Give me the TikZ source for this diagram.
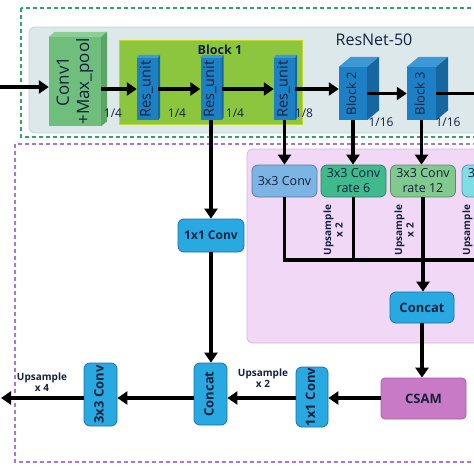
\documentclass[tikz,border=0pt]{standalone}
\usepackage{fontspec}
\setmainfont{Open Sans}
\usetikzlibrary{arrows.meta,calc}
\definecolor{ink}{HTML}{14213D}
\definecolor{framegreen}{HTML}{2AA56B}
\definecolor{framepurple}{HTML}{A875D8}
\definecolor{backbone}{HTML}{DDE8EA}
\definecolor{backboneedge}{HTML}{C3D2D5}
\definecolor{blockone}{HTML}{8CC63F}
\definecolor{blockoneedge}{HTML}{C2D82E}
\definecolor{asppbg}{HTML}{F1D8F7}
\definecolor{asppedge}{HTML}{D2B5DF}
\definecolor{convfront}{HTML}{6FBE7C}
\definecolor{convtop}{HTML}{8CCF95}
\definecolor{convside}{HTML}{5BA567}
\definecolor{resfront}{HTML}{1E80C4}
\definecolor{restop}{HTML}{3D98D6}
\definecolor{resside}{HTML}{16679F}
\definecolor{boxblue}{HTML}{29A9E1}
\definecolor{boxedge}{HTML}{1F6FA3}
\definecolor{ratezero}{HTML}{7CB4E3}
\definecolor{ratesix}{HTML}{40B98D}
\definecolor{ratetwelve}{HTML}{82C98F}
\definecolor{rateeighteen}{HTML}{7FDDE6}
\definecolor{csamfill}{HTML}{C97AC6}
\definecolor{csamedge}{HTML}{A45EA3}
\newcommand\segup[1]{\rotatebox{90}{\begin{tabular}{@{}c@{}}#1\end{tabular}}}
\newcommand\segdepth[5]{%
 \fill[#4] (#1.north west) -- ++(#2,-#3) -- ($(#1.north east)+(#2,-#3)$) -- (#1.north east) -- cycle;
 \fill[#5] (#1.north east) -- ++(#2,-#3) -- ($(#1.south east)+(#2,-#3)$) -- (#1.south east) -- cycle;}
\tikzset{
 seg flow/.style={line width=3.8pt,-{Triangle[length=10pt,width=13pt]}},
 seg line/.style={line width=3.8pt},
 seg frame/.style={line width=1.7pt,dash pattern=on 4pt off 3pt},
 seg cube/.style={rectangle,inner sep=0pt,text=ink},
 seg box/.style={rectangle,rounded corners=6pt,draw=boxedge,fill=boxblue,line width=.8pt,
                 inner sep=0pt,text=ink,align=center,font=\fontsize{13}{15}\bfseries},
 seg rate/.style={seg box,minimum width=65pt,minimum height=32pt,font=\fontsize{12.5}{15}\selectfont},
 seg ratio/.style={font=\fontsize{12}{14}\selectfont,text=ink},
 seg note/.style={font=\fontsize{10}{11.5}\bfseries,text=ink,align=center,inner sep=0pt}
}
\begin{document}
\begin{tikzpicture}[x=1pt,y=-1pt]
 \useasboundingbox (0,0) rectangle (474,474);
 % frames and panels
 \draw[seg frame,draw=framegreen] (21,8) rectangle (495,137);
 \draw[seg frame,draw=framepurple] (15,144) rectangle (495,462);
 \draw[fill=backbone,draw=backboneedge,line width=.8pt,rounded corners=6pt] (29,27) rectangle (505,133);
 \node[font=\fontsize{16}{18}\selectfont,text=ink] (resnet) at (374,40) {ResNet-50};
 \draw[fill=blockone,draw=blockoneedge,line width=1pt] (119,40) rectangle (302,124);
 \node[font=\fontsize{12.5}{14}\bfseries,text=ink] (block1) at (220,50) {Block 1};
 \draw[fill=asppbg,draw=asppedge,line width=.8pt,rounded corners=6pt] (247,149) rectangle (505,343);

 % backbone
 \node[seg cube,fill=convfront,minimum width=52pt,minimum height=89pt,
       font=\fontsize{17}{20}\selectfont] (conv1) at (75,81.5) {\segup{Conv1\\+Max\_pool}};
 \segdepth{conv1}{6}{5}{convtop}{convside}
 \foreach \n/\x in {res1/147.5,res2/211,res3/284.5}{
  \node[seg cube,fill=resfront,minimum width=21pt,minimum height=62pt,
        font=\fontsize{14.5}{16}\selectfont] (\n) at (\x,89) {\segup{Res\_unit}};
  \segdepth{\n}{2}{3}{restop}{resside}
 }
 \node[seg cube,fill=resfront,minimum width=28pt,minimum height=53pt,
       font=\fontsize{13}{15}\selectfont] (block2) at (353,93.5) {\segup{Block 2}};
 \segdepth{block2}{12}{10}{restop}{resside}
 \node[seg cube,fill=resfront,minimum width=29pt,minimum height=53pt,
       font=\fontsize{13}{15}\selectfont] (block3) at (421.5,93.5) {\segup{Block 3}};
 \segdepth{block3}{12}{10}{restop}{resside}

 \coordinate (in) at (-8,87);
 \coordinate (out) at (484,93.5);
 \draw[seg flow] (in) -- (in -| conv1.west);
 \draw[seg flow] (conv1.east |- res1.west) -- (res1.west);
 \draw[seg flow] (res1.east) -- (res2.west);
 \draw[seg flow] (res2.east) -- (res3.west);
 \draw[seg flow] (res3.east) -- (res3.east -| block2.west);
 \draw[seg flow] (block2.east) -- (block3.west);
 \draw[seg flow] (block3.east) -- (out);

 \node[seg ratio] (r1) at (113,113) {1/4};
 \node[seg ratio] (r2) at (177,113) {1/4};
 \node[seg ratio] (r3) at (235,113) {1/4};
 \node[seg ratio] (r4) at (304,113) {1/8};
 \node[seg ratio] (r5) at (381,122) {1/16};
 \node[seg ratio] (r6) at (448,122) {1/16};

 % ASPP
 \node[seg rate,fill=ratezero,draw=ratezero!70!black] (a1) at (284.5,181) {3x3 Conv};
 \node[seg rate,fill=ratesix,draw=ratesix!70!black] (a6) at (353.5,181) {3x3 Conv\\rate 6};
 \node[seg rate,fill=ratetwelve,draw=ratetwelve!70!black] (a12) at (423,181) {3x3 Conv\\rate 12};
 \node[seg rate,fill=rateeighteen,draw=rateeighteen!70!black] (a18) at (494.5,181) {3x3 Conv\\rate 18};
 \node[seg note] (up6) at (334.5,230) {\segup{Upsample\\x 2}};
 \node[seg note] (up12) at (405.5,230) {\segup{Upsample\\x 2}};
 \node[seg note] (up18) at (473.5,230) {\segup{Upsample\\x 2}};
 \node[seg box,minimum width=64pt,minimum height=31pt] (cat2) at (422,307.5) {Concat};
 \coordinate (bus) at (500,260);
 \draw[seg line] (a1.south) |- (bus);
 \draw[seg line] (a6.south) -- (a6.south |- bus);
 \draw[seg flow] (a12.south) -- (a12.south |- cat2.north);

 % decoder
 \node[seg box,fill=csamfill,draw=csamedge,rounded corners=4pt,
       minimum width=85pt,minimum height=41pt] (csam) at (423.5,398.5) {CSAM};
 \node[seg box,font=\fontsize{12}{15}\bfseries,minimum width=66pt,minimum height=33pt] (one1) at (211,235.5) {1x1 Conv};
 \node[seg box,minimum width=32pt,minimum height=60pt] (one2) at (312,397) {\segup{1x1 Conv}};
 \node[seg box,minimum width=33pt,minimum height=62pt] (cat1) at (210.5,394) {\segup{Concat}};
 \node[seg box,minimum width=33pt,minimum height=63pt] (c33) at (100.5,394.5) {\segup{3x3 Conv}};
 \node[seg note] (up2) at (263,378) {Upsample\\x 2};
 \node[seg note] (up4) at (42,382) {Upsample\\x 4};
 \coordinate (seg) at (1,398);

 \draw[seg flow] (res2.south) -- (res2.south |- one1.north);
 \draw[seg flow] (one1.south) -- (one1.south |- cat1.north);
 \draw[seg flow] (res3.south) -- (res3.south |- a1.north);
 \draw[seg flow] (block2.south) -- (block2.south |- a6.north);
 \draw[seg flow] (block3.south) -- (block3.south |- a12.north);
 \draw[seg flow] (cat2.south) -- (cat2.south |- csam.north);
 \draw[seg flow] (csam.west |- seg) -- (seg -| one2.east);
 \draw[seg flow] (one2.west |- seg) -- (seg -| cat1.east);
 \draw[seg flow] (cat1.west |- seg) -- (seg -| c33.east);
 \draw[seg flow] (c33.west |- seg) -- (seg);
\end{tikzpicture}
\end{document}
